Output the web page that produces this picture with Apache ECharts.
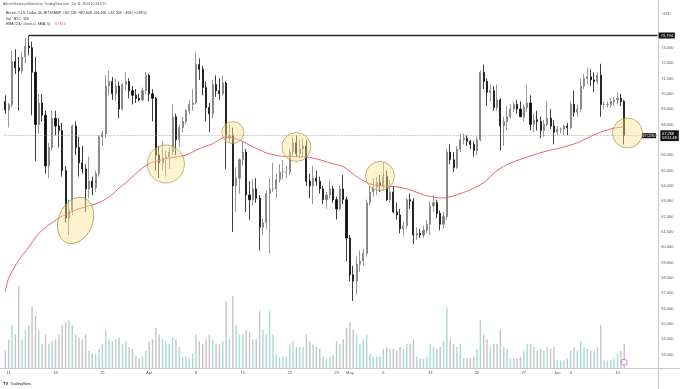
<!DOCTYPE html>
<html><head><meta charset="utf-8">
<script src="https://cdn.jsdelivr.net/npm/echarts/dist/echarts.min.js"></script>
<style>html,body{margin:0;padding:0;background:#fff}#c{width:680px;height:389px}</style>
</head><body><div id="c"></div>
<script>
// ---- data (12h candles) ----
const startUTC = Date.UTC(2024, 2, 10, 12);
const emptyAfter = 10; // right margin of the chart (future slots)
// [open, high, low, close]
const ohlc = [
[69500,69900,68700,68950],[68950,69400,67800,69300],[69300,72800,69100,72100],[72100,72900,71300,71700],
[71700,72400,68900,71500],[71500,72700,71300,72400],[72400,73650,72000,73100],[73100,73794,72500,73000],
[73000,73400,68600,71400],[71400,72400,65600,68000],[68000,70000,67400,69400],[69400,70000,68200,68600],
[68600,68900,64800,65300],[65300,66800,64500,66500],[66500,68900,66300,68400],[68400,68900,67300,67900],
[67900,68400,66500,67600],[67600,68100,64600,65000],[65000,65300,61600,61900],[61900,63100,60800,62400],
[62400,68000,62100,67900],[67900,68200,66000,66500],[66500,67200,64600,65500],[65500,66600,64800,65100],
[65100,65400,62300,63800],[63800,65900,63200,64300],[64300,64600,63400,63900],[63900,65000,63600,64800],
[64800,67300,64600,67200],[67200,67600,66600,67400],[67400,71200,67100,70500],[70500,71500,69900,70800],
[70800,71100,69600,70000],[70000,71000,69500,70500],[70500,70800,68400,69000],[69000,70700,68900,70600],
[70600,71400,70200,70800],[70800,71000,69700,70200],[70200,70500,69300,69900],[69900,70300,69400,69700],
[69700,70000,69500,69600],[69600,70400,69500,70200],[70200,71400,70000,71200],[71200,71300,69500,70000],
[70000,70300,68200,69700],[69700,69800,65000,66000],[66000,66600,64500,65500],[65500,66900,65000,65800],
[65800,66300,64600,65900],[65900,66500,65100,66200],[66200,69300,66000,68500],[68500,68700,66000,67000],
[67000,68000,66500,67800],[67800,68500,67500,68200],[68200,69000,68000,68900],[68900,69600,68700,69300],
[69300,70300,68900,69400],[69400,72700,69300,71900],[71900,72300,70900,71600],[71600,71800,69900,70400],
[70400,70800,68200,69100],[69100,69400,67500,68700],[68700,70900,68400,70600],[70600,71200,69800,70200],
[70200,71000,69600,70000],[70000,71200,69900,70700],[70700,70800,65100,67100],[67100,68000,66800,67300],
[67300,67800,61000,64000],[64000,65200,62300,64500],[64500,65800,63500,65700],[65700,66900,65300,66200],
[66200,66400,62300,63400],[63400,64300,61800,63100],[63100,64400,62700,63800],[63800,64500,62900,63200],
[63200,63400,59800,61300],[61300,61900,60800,61600],[61600,63700,61200,63500],[63500,64500,59600,63800],
[63800,65500,63600,63800],[63800,64800,63200,64400],[64400,65400,64200,64900],[64900,65700,64400,64900],
[64900,65300,64500,64900],[64900,66400,64700,66200],[66200,67200,65900,66800],[66800,67300,65900,66100],
[66100,67000,65800,66400],[66400,67100,65900,66600],[66600,67000,64000,64300],[64300,64800,63200,64000],
[64000,65300,62800,64500],[64500,65000,64000,64300],[64300,64600,63500,63800],[63800,64000,62800,63100],
[63100,63600,62500,63400],[63400,64400,63200,63800],[63800,64000,62900,63100],[63100,63300,61800,62500],
[62500,64000,62400,63800],[63800,64700,62800,63100],[63100,63300,59100,60600],[60600,60800,57800,58200],
[58200,58800,56500,57800],[57800,59400,56900,58900],[58900,59800,58400,59100],[59100,59900,58800,59600],
[59600,63100,59400,62900],[62900,64000,62700,63600],[63600,64500,63300,63900],[63900,64600,63400,64200],
[64200,64700,63600,64000],[64000,65500,63700,64600],[64600,65000,63000,63100],[63100,64400,62900,63600],
[63600,64000,62200,62300],[62300,62900,61800,62100],[62100,62500,60900,61200],[61200,61700,60700,61400],
[61400,63200,61200,63100],[63100,63500,62500,63000],[63000,63200,60200,60800],[60800,61300,60500,60900],
[60900,61200,60600,60800],[60800,61400,60600,61100],[61100,61800,60900,61500],[61500,63000,60800,62700],
[62700,63400,62300,62900],[62900,63100,61900,62200],[62200,62400,61100,61500],[61500,62300,61200,62000],
[62000,66400,61800,66200],[66200,66700,65400,65700],[65700,66200,64900,65200],[65200,66600,65100,66400],
[66400,67400,66200,67000],[67000,67400,66700,67100],[67100,67300,66600,66900],[66900,67000,66400,66700],
[66700,66900,65900,66300],[66300,67200,66000,67000],[67000,71500,66900,71400],[71400,71900,70300,70800],
[70800,71000,69200,70100],[70100,70600,69500,70200],[70200,70500,68900,69100],[69100,70600,68900,69600],
[69600,69700,66300,67900],[67900,68500,66600,68200],[68200,69200,67600,68500],[68500,69300,68400,69000],
[69000,69500,68800,69300],[69300,69600,68700,69000],[69000,69500,68500,68500],[68500,69300,68200,69100],
[69100,70600,68800,69400],[69400,69900,67600,68000],[68000,68700,67500,68300],[68300,68900,67600,68200],
[68200,68500,67100,67600],[67600,68300,67200,68000],[68000,69500,67900,68400],[68400,69000,67700,67900],
[67900,68300,66700,67500],[67500,67900,67300,67700],[67700,67800,67400,67700],[67700,68000,67300,67900],
[67900,68100,67300,67800],[67800,69500,67700,69300],[69300,70200,68500,68800],[68800,69300,68500,69000],
[69000,71000,68800,70500],[70500,71300,70300,71000],[71000,71700,70600,71100],[71100,71600,70500,70900],
[70900,71400,70100,70800],[70800,71400,70600,71200],[71200,71950,68500,69300],[69300,69500,69000,69300],
[69300,69500,69100,69300],[69300,69700,69100,69500],[69500,69800,69200,69600],[69600,70100,69300,69700],
[69700,70000,69200,69500],[69500,69600,66700,67268]
];
const volume = [
900,1500,2250,1750,4300,1500,2000,2250,3200,2750,2000,1250,1750,1250,1400,1500,1750,2250,2400,2500,
2250,1750,1600,1500,1750,900,750,750,1000,1250,2000,1500,1400,1500,1600,1250,1400,1100,1000,600,
500,600,900,1400,1500,2100,1750,1500,1400,1250,1600,1500,1100,600,600,500,750,1750,1400,1250,
1500,1750,1500,1250,1250,1400,3500,1500,3750,2250,1750,1750,2000,1900,1500,1500,3000,2000,1750,3000,
1750,750,600,600,600,1250,1400,1100,1100,1100,1750,1400,1250,1100,1000,600,500,600,700,1400,
1250,1500,2100,2400,2000,1750,1250,1500,1750,750,600,600,600,1000,1100,1000,1000,900,1100,1000,
1250,1250,1500,600,500,500,600,1250,1100,1000,1100,1400,3150,1500,1250,1100,1250,500,500,500,
600,1000,2500,1750,1500,1100,1250,1250,2000,1100,1000,500,500,500,600,900,1250,1250,1100,900,
1000,900,1100,1000,1100,400,400,400,500,900,1100,900,1400,1100,1000,900,900,1100,2250,400,
400,400,500,750,900,1250
];
// EMA(200): [slot index, value]
const ema200 = [
[0,57100],[1,58000],[4,59150],[7,60000],[10,60900],[13,61450],[16,61900],[19,62230],[22,62500],[25,62700],
[28,62900],[31,63280],[34,63850],[37,64380],[40,65000],[43,65450],[46,65650],[49,65820],[54,66000],[58,66420],
[62,66750],[66,67200],[70,66980],[74,66540],[78,66150],[82,65950],[86,65900],[90,65880],[94,65700],[97,65500],
[101,65250],[105,64600],[109,64130],[113,63980],[117,63940],[121,63740],[125,63420],[129,63230],[131,63210],[135,63420],
[139,63740],[143,64200],[147,65000],[151,65480],[156,65880],[161,66220],[166,66480],[171,66800],[174,67120],[178,67500],
[182,67760],[185,67840]
];
const tickDates = ['2024-03-11 00:00','2024-03-18 00:00','2024-03-25 00:00','2024-04-01 00:00','2024-04-08 00:00',
'2024-04-15 00:00','2024-04-22 00:00','2024-04-29 00:00','2024-05-01 00:00','2024-05-06 00:00','2024-05-13 00:00',
'2024-05-20 00:00','2024-05-27 00:00','2024-06-01 00:00','2024-06-03 00:00','2024-06-10 00:00'];
const tickLabels = ['11','18','25','Apr','8','15','22','29','May','6','13','20','27','Jun','3','10'];
const athPrice = 73794, athIndex = 7;
const lastPrice = 67268;
// highlighted zones: [slot index, price, width, height, rotation]
const zones = [[21,61742,34,48,-22],[48,65423,37,38,0],[68,67475,22,22,0],[87,66531,29,29,0],[112,64641,29,29,0],[186,67443,30,30,0]];

// ---- build ----
const pad = n => String(n).padStart(2,'0');
const categories = [];
for (let i = 0; i < ohlc.length + emptyAfter; i++) {
  const d = new Date(startUTC + i * 12 * 3600 * 1000);
  categories.push(d.getUTCFullYear()+'-'+pad(d.getUTCMonth()+1)+'-'+pad(d.getUTCDate())+' '+pad(d.getUTCHours())+':00');
}
const candleData = ohlc.map(r => [r[0], r[3], r[2], r[1]]);
const volData = volume.map((v, i) => ({value: v, itemStyle: {color: ohlc[i][3] >= ohlc[i][0] ? '#a9d9d3' : '#c4c4c4'}}));
const fmt = v => v.toLocaleString('en-US');

const chart = echarts.init(document.getElementById('c'));
const gridLeft = 3.68, gridWidth = 3.345 * categories.length;
const font = 'Liberation Sans, Arial, sans-serif';
chart.setOption({
  animation: false,
  backgroundColor: '#ffffff',
  grid: [
    {left: gridLeft, width: gridWidth, top: 32.35, height: 337.7},
    {left: gridLeft, width: gridWidth, top: 280, height: 88}
  ],
  xAxis: [
    {type: 'category', gridIndex: 0, data: categories, boundaryGap: true,
     axisLine: {show: false}, axisTick: {show: false}, axisLabel: {show: false}, splitLine: {show: false}},
    {type: 'category', gridIndex: 1, data: categories, boundaryGap: true,
     axisLine: {show: false}, axisTick: {show: false}, splitLine: {show: false},
     axisLabel: {show: true, fontSize: 4, color: '#555', margin: 2.5, fontFamily: font, hideOverlap: false,
       interval: (idx, val) => tickDates.indexOf(val) >= 0,
       formatter: val => { const k = tickDates.indexOf(val); return k >= 0 ? tickLabels[k] : ''; }}}
  ],
  yAxis: [
    {type: 'value', gridIndex: 0, position: 'right', min: 52000, max: 74000, interval: 1000,
     splitLine: {show: false}, axisLine: {show: false}, axisTick: {show: false},
     axisLabel: {fontSize: 4, color: '#555', margin: 2, fontFamily: font,
       formatter: v => (v === 52000 || v === 74000 || v === 67000) ? '' : fmt(v)}},
    {type: 'value', gridIndex: 1, min: 0, max: 4600, show: false}
  ],
  series: [
    {type: 'bar', xAxisIndex: 1, yAxisIndex: 1, data: volData, barWidth: 1.4, z: 1,
     markPoint: {symbol: 'circle', symbolSize: 6, silent: true, label: {show: false},
       itemStyle: {color: '#fff', borderColor: '#d050e0', borderWidth: 0.8},
       data: [{coord: [185, 300]}]}},
    {type: 'candlestick', xAxisIndex: 0, yAxisIndex: 0, data: candleData, barWidth: 1.6, z: 3,
     itemStyle: {color: '#7d7d7d', color0: '#0d0d0d', borderColor: '#7d7d7d', borderColor0: '#0d0d0d', borderWidth: 0.8},
     markLine: {symbol: 'none', silent: true, animation: false,
       data: [
         [{coord: [athIndex, athPrice], lineStyle: {color: '#2a2a2a', width: 1.4, type: 'solid'},
           label: {show: true, position: 'end', distance: 1, formatter: fmt(athPrice), color: '#fff', backgroundColor: '#131313',
                   fontSize: 4, padding: [1, 2], fontFamily: font}},
          {coord: [categories.length - 1, athPrice]}],
         {yAxis: lastPrice, lineStyle: {color: '#9a9ca3', width: 0.7, type: 'dotted'},
          label: {show: true, position: 'end', distance: 1, formatter: fmt(lastPrice) + '\n03:11:48', color: '#fff', backgroundColor: '#131313',
                  fontSize: 3.8, lineHeight: 4.4, padding: [1, 2], fontFamily: font}}
       ]},
     markPoint: {silent: true, animation: false,
       data: zones.map(z => ({coord: [z[0], z[1]], symbol: 'circle', symbolSize: [z[2], z[3]], symbolRotate: z[4],
          itemStyle: {color: 'rgba(250,228,140,0.42)', borderColor: 'rgba(150,130,50,0.85)', borderWidth: 0.7},
          label: {show: false}})).concat([
          {coord: [categories.length - 1, lastPrice], symbol: 'rect', symbolSize: [14, 5], symbolOffset: [-8.5, 0],
           itemStyle: {color: '#131313'},
           label: {show: true, position: 'inside', formatter: 'BTCUSD', color: '#fff', fontSize: 3.2, fontFamily: font}}])}},
    {type: 'line', xAxisIndex: 0, yAxisIndex: 0, data: ema200, smooth: 0.25, showSymbol: false, z: 4,
     lineStyle: {color: '#e2545f', width: 0.9}}
  ],
  graphic: [
    {type: 'line', shape: {x1: 658.5, y1: 0, x2: 658.5, y2: 389}, style: {stroke: '#b8bbc3', lineWidth: 0.8}, z: 0},
    {type: 'line', shape: {x1: 0, y1: 368.5, x2: 680, y2: 368.5}, style: {stroke: '#b8bbc3', lineWidth: 0.8}, z: 0},
    {type: 'text', x: 3, y: 4.5, style: {text: 'AltcoinSherpa published on TradingView.com, Jun 11, 2024 10:48 UTC', font: '3.3px ' + font, fill: '#555', textVerticalAlign: 'middle'}},
    {type: 'text', x: 6, y: 13.3, style: {text: 'Bitcoin / U.S. Dollar, 4h, BITSTAMP  O67,509  H67,608  L66,696  C67,268  \u2212468 (\u22120.69%)', font: '3.5px ' + font, fill: '#333', textVerticalAlign: 'middle'}},
    {type: 'text', x: 6, y: 18.8, style: {text: 'Vol \u00b7 BTC  338', font: '3.5px ' + font, fill: '#333', textVerticalAlign: 'middle'}},
    {type: 'text', x: 6, y: 24.2, style: {text: 'EMA (200, close, 0, SMA, 5)', font: '3.5px ' + font, fill: '#333', textVerticalAlign: 'middle'}},
    {type: 'text', x: 55, y: 24.2, style: {text: '67,815', font: '3.5px ' + font, fill: '#e2545f', textVerticalAlign: 'middle'}},
    {type: 'text', x: 662.5, y: 14, style: {text: 'USD', font: '3.8px ' + font, fill: '#555', textVerticalAlign: 'middle'}},
    {type: 'text', x: 3, y: 383.5, style: {text: 'TV', font: 'bold 4px ' + font, fill: '#131722', textVerticalAlign: 'middle'}},
    {type: 'text', x: 10, y: 383.5, style: {text: 'TradingView', font: '3.8px ' + font, fill: '#131722', textVerticalAlign: 'middle'}}
  ]
});
</script></body></html>
